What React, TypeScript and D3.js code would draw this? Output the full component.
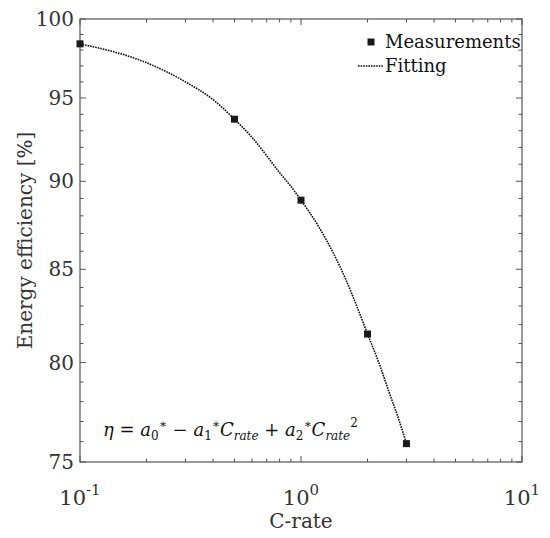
import * as d3 from 'd3';

const measC = [0.1, 0.5, 1, 2, 3];
const measEta = [98.4, 93.7, 88.9, 81.5, 75.9];

const fitC = [0.1, 0.2, 0.3, 0.4, 0.5, 0.6, 0.7, 0.8, 0.9, 1.0, 1.2, 1.4, 1.6, 1.8, 2.0, 2.25, 2.5, 2.75, 3.0];
const fitEta = [98.4, 97.2, 96.0, 94.9, 93.7, 92.6, 91.5, 90.5, 89.7, 88.9, 87.4, 85.9, 84.4, 82.9, 81.5, 80.0, 78.5, 77.2, 75.9];

const yTicks = [75, 80, 85, 90, 95, 100];
const xTicks = [0.1, 1, 10];
const xTickExp = ['-1', '0', '1'];

const W = 550;
const H = 538;
const margin = { top: 19, right: 28, bottom: 76, left: 80 };
const axisColor = '#555';
const serif = { fontFamily: "'DejaVu Serif', serif" };

export default function App() {
  const x = d3.scaleLog().domain([0.1, 10]).range([margin.left, W - margin.right]);
  const y = d3.scaleLog().domain([75, 100]).range([H - margin.bottom, margin.top]);
  const [x0, x1] = x.range();
  const [y0, y1] = y.range();

  const xMinor: number[] = [];
  [0.1, 1].forEach((d) => {
    for (let k = 2; k <= 9; k++) xMinor.push(d * k);
  });
  const yMinor = d3.range(76, 100).filter((v) => v % 5 !== 0);

  const line = d3
    .line<number>()
    .x((_, i) => x(fitC[i]))
    .y((d) => y(d))
    .curve(d3.curveMonotoneX);

  const major = 6;
  const minor = 3.5;
  const sq = 7;

  return (
    <svg width={W} height={H} style={{ position: 'absolute', left: 0, top: 0, background: '#fff' }}>
      {/* box */}
      <rect x={x0} y={y1} width={x1 - x0} height={y0 - y1} fill="none" stroke={axisColor} strokeWidth={1.2} />

      {/* x ticks */}
      {xTicks.map((t) => (
        <g key={'xt' + t} stroke={axisColor} strokeWidth={1}>
          <line x1={x(t)} x2={x(t)} y1={y0} y2={y0 - major} />
          <line x1={x(t)} x2={x(t)} y1={y1} y2={y1 + major} />
        </g>
      ))}
      {xMinor.map((t) => (
        <g key={'xm' + t} stroke={axisColor} strokeWidth={1}>
          <line x1={x(t)} x2={x(t)} y1={y0} y2={y0 - minor} />
          <line x1={x(t)} x2={x(t)} y1={y1} y2={y1 + minor} />
        </g>
      ))}
      {/* y ticks */}
      {yTicks.map((t) => (
        <g key={'yt' + t} stroke={axisColor} strokeWidth={1}>
          <line x1={x0} x2={x0 + major} y1={y(t)} y2={y(t)} />
          <line x1={x1} x2={x1 - major} y1={y(t)} y2={y(t)} />
        </g>
      ))}
      {yMinor.map((t) => (
        <g key={'ym' + t} stroke={axisColor} strokeWidth={1}>
          <line x1={x0} x2={x0 + minor} y1={y(t)} y2={y(t)} />
          <line x1={x1} x2={x1 - minor} y1={y(t)} y2={y(t)} />
        </g>
      ))}

      {/* y tick labels */}
      {yTicks.map((t) => (
        <text key={'yl' + t} x={x0 - 6} y={y(t) + 7} textAnchor="end" fontSize={20} fill="#333" style={serif}>
          {t}
        </text>
      ))}
      {/* x tick labels */}
      {xTicks.map((t, i) => (
        <text key={'xl' + t} x={x(t)} y={y0 + 43} textAnchor="middle" fontSize={21} fill="#333" style={serif}>
          10
          <tspan dy={-10} fontSize={15}>
            {xTickExp[i]}
          </tspan>
        </text>
      ))}

      {/* axis titles */}
      <text x={(x0 + x1) / 2} y={H - 10} textAnchor="middle" fontSize={20} fill="#333" style={serif}>
        C-rate
      </text>
      <text
        transform={`translate(32,${(y0 + y1) / 2}) rotate(-90)`}
        textAnchor="middle"
        fontSize={20}
        fill="#333"
        style={serif}
      >
        Energy efficiency [%]
      </text>

      {/* fitting */}
      <path d={line(fitEta) || ''} fill="none" stroke="#111" strokeWidth={1.6} strokeDasharray="1.6,1" />

      {/* measurements */}
      {measC.map((c, i) => (
        <rect key={'m' + c} x={x(c) - sq / 2} y={y(measEta[i]) - sq / 2} width={sq} height={sq} fill="#1a1a1a" />
      ))}

      {/* legend */}
      <rect x={371 - 3.5} y={42 - 3.5} width={7} height={7} fill="#1a1a1a" />
      <text x={385} y={48} fontSize={18} fill="#111" style={serif}>
        Measurements
      </text>
      <line x1={358} x2={383} y1={66} y2={66} stroke="#111" strokeWidth={1.6} strokeDasharray="1.6,1" />
      <text x={385} y={72} fontSize={18} fill="#111" style={serif}>
        Fitting
      </text>

      {/* equation */}
      <text x={103} y={436} fontSize={18} fill="#111" style={serif}>
        <tspan fontStyle="italic">η</tspan>
        <tspan> = </tspan>
        <tspan fontStyle="italic">a</tspan>
        <tspan fontSize={12} dy={4}>0</tspan>
        <tspan fontSize={12} dy={-12}>∗</tspan>
        <tspan dy={8}> − </tspan>
        <tspan fontStyle="italic">a</tspan>
        <tspan fontSize={12} dy={4}>1</tspan>
        <tspan fontSize={12} dy={-12}>∗</tspan>
        <tspan dy={8} fontStyle="italic">C</tspan>
        <tspan fontSize={12} dy={4} fontStyle="italic">rate</tspan>
        <tspan dy={-4}> + </tspan>
        <tspan fontStyle="italic">a</tspan>
        <tspan fontSize={12} dy={4}>2</tspan>
        <tspan fontSize={12} dy={-12}>∗</tspan>
        <tspan dy={8} fontStyle="italic">C</tspan>
        <tspan fontSize={12} dy={4} fontStyle="italic">rate</tspan>
        <tspan fontSize={12} dy={-13}>2</tspan>
      </text>
    </svg>
  );
}
